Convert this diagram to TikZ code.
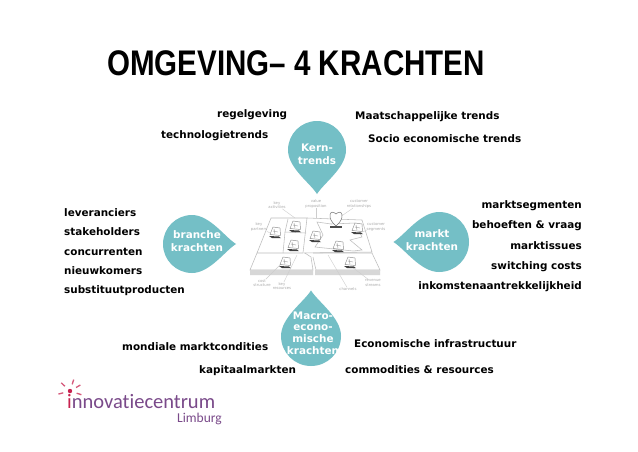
\documentclass[tikz,border=0pt]{standalone}
\usepackage{fontspec}
\setmainfont{DejaVu Sans}
\newfontfamily\titlefont{Liberation Sans}
\newfontfamily\logofont[Ligatures=NoCommon]{Carlito}
\definecolor{teal1}{HTML}{74BFC6}
\definecolor{canv}{HTML}{BDBDBD}
\definecolor{canvlab}{HTML}{ABABAB}
\definecolor{logored}{HTML}{C8224F}
\definecolor{logopur}{HTML}{7A4A8A}
\newcommand{\dropshape}[4]{% x y r rotation
  \fill[teal1,shift={(#1,#2)},rotate=#4,scale=#3]
    (0,1.52) .. controls (0.22,1.15) and (1,0.62) .. (1,0)
    arc[start angle=0,end angle=-180,radius=1]
    .. controls (-1,0.62) and (-0.22,1.15) .. (0,1.52) -- cycle;}
\newcommand{\iconbox}[2]{%
  \fill[black!75,shift={(#1,#2)}] (-6,4) -- (4,4.5) -- (6,6.2) -- (-3,6) -- cycle;
  \draw[black!45,fill=white,line width=0.45pt,shift={(#1,#2)}] (-5,2.5) -- (-2,-5) -- (5,-4) -- (5.5,3.5) -- cycle;
  \draw[black!40,line width=0.4pt,shift={(#1,#2)}] (-2,-1) -- (3,0) (-1,-3) -- (0,2);}
\tikzset{
  x=1pt,y=-1pt,
  lab/.style={font=\fontsize{10.4}{12}\selectfont\bfseries,text=black,inner sep=0pt,anchor=base west},
  labr/.style={font=\fontsize{10.4}{12}\selectfont\bfseries,text=black,inner sep=0pt,anchor=base east},
  droplab/.style={font=\fontsize{10.4}{13}\selectfont\bfseries,text=white,align=center,inner sep=0pt},
  canvasline/.style={draw=canv,line width=0.55pt},
  tinylab/.style={font=\fontsize{3.8}{4.6}\selectfont,text=canvlab,align=center,inner sep=0pt},
  leader/.style={draw=canv!75,line width=0.4pt}
}
\begin{document}
\begin{tikzpicture}
\useasboundingbox (0,0) rectangle (638,451);
\fill[white] (0,0) rectangle (638,451);
\node[font=\titlefont\fontsize{35.6}{38}\selectfont\bfseries,inner sep=0pt,anchor=base west] (title) at (107,75) {\scalebox{.83}[1]{OMGEVING– 4 KRACHTEN}};

% canvas
\draw[canvasline] (271,218) -- (307,218) -- (303,253) -- (257,253) -- cycle;
\draw[canvasline] (288,219) -- (285,232) -- (283,253);
\draw[canvasline] (285,232) -- (306,233);
\draw[canvasline] (307,218) -- (362,220) -- (372,252) -- (304,253);
\draw[canvasline] (257,253) -- (250,270) -- (313,270) -- (311,257) -- (305,253);
\draw[canvasline] (313,253) -- (372,253) -- (380,270) -- (316,270) -- (313,257);
\fill[canv!60] (250,270) rectangle (313,275) (315,270) rectangle (380,275);
\draw[canvasline,fill=white] (317,222) -- (331,224) -- (355,223) -- (362,237) -- (350,240) -- (362,250) -- (353,251) -- (315,247) -- (323,235) -- cycle;
\node[tinylab] (t1) at (277,205) {key\\activities};
\node[tinylab] (t2) at (316,204) {value\\proposition};
\node[tinylab] (t3) at (359,204) {customer\\relationships};
\node[tinylab] (t4) at (259,227) {key\\partners};
\node[tinylab] (t5) at (376,227) {customer\\segments};
\node[tinylab] (t6) at (262,283) {cost\\structure};
\node[tinylab] (t7) at (282,286) {key\\resources};
\node[tinylab] (t8) at (348,289) {channels};
\node[tinylab] (t9) at (373,283) {revenue\\streams};
\draw[leader] (t1) -- (295,218);
\draw[leader] (t2) -- (316,218);
\draw[leader] (t3) -- (340,217);
\draw[leader] (t4) -- (270,233);
\draw[leader] (t5) -- (362,232);
\draw[leader] (t6) -- (283,262);
\draw[leader] (t7) -- (297,255);
\draw[leader] (t8) -- (328,255);
\draw[leader] (t9) -- (352,267);
% canvas icons
\iconbox{275}{232}
\iconbox{295}{226}
\iconbox{293}{245}
\iconbox{285}{262}
\iconbox{315}{236}
\iconbox{338}{246}
\iconbox{350}{262}
\iconbox{357}{228}
\draw[black!55,fill=white,line width=0.5pt] (336,226) .. controls (326,218) and (330,208) .. (336,214) .. controls (342,208) and (346,218) .. (336,226) -- cycle;
\fill[black!70] (330,226) rectangle (342,228);

% drops
\dropshape{317}{150}{29}{0}
\dropshape{192}{244}{29}{90}
\dropshape{439}{242}{30}{-90}
\dropshape{311}{336}{30}{180}
\node[droplab] (kern) at (317,154) {Kern-\\trends};
\node[droplab] (branche) at (197,241) {branche\\krachten};
\node[droplab] (markt) at (432,240) {markt\\krachten};
\node[droplab,font=\fontsize{10.4}{11.8}\selectfont\bfseries] (macro) at (313,333) {Macro-\\econo-\\mische\\krachten};

% labels
\node[lab] (a1) at (217,117) {regelgeving};
\node[lab] (a2) at (161,138) {technologietrends};
\node[lab] (a3) at (355,119) {Maatschappelijke trends};
\node[lab] (a4) at (368,142) {Socio economische trends};
\node[lab] (b1) at (64,216) {leveranciers};
\node[lab] (b2) at (64,235) {stakeholders};
\node[lab] (b3) at (64,255) {concurrenten};
\node[lab] (b4) at (64,274) {nieuwkomers};
\node[lab] (b5) at (64,293) {substituutproducten};
\node[labr] (c1) at (582,208) {marktsegmenten};
\node[labr] (c2) at (582,228) {behoeften \& vraag};
\node[labr] (c3) at (582,249) {marktissues};
\node[labr] (c4) at (582,269) {switching costs};
\node[labr] (c5) at (582,289) {inkomstenaantrekkelijkheid};
\node[lab] (d1) at (122,350) {mondiale marktcondities};
\node[lab] (d2) at (199,373) {kapitaalmarkten};
\node[lab] (d3) at (354,347) {Economische infrastructuur};
\node[lab] (d4) at (345,373) {commodities \& resources};

% logo
\node[font=\logofont\fontsize{20.5}{24}\selectfont,text=logopur,inner sep=0pt,anchor=base west] (logo) at (67,408) {\textcolor{logored}{i}nnovatiecentrum};
\node[font=\logofont\fontsize{13.5}{14}\selectfont,text=logopur,inner sep=0pt,anchor=base east] (limburg) at (222,422) {Limburg};
\fill[logored] (70,391) circle (2.2);
\foreach \a in {165,-137,-72,-30,18}{
  \draw[logored!75,line width=1.3pt,shift={(70,391)}] (\a:7) -- (\a:12);
}
\end{tikzpicture}
\end{document}
